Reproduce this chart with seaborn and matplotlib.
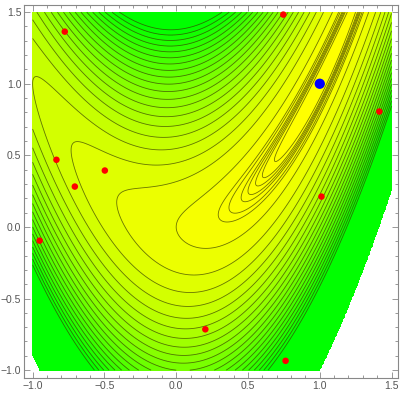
import numpy as np
import pandas as pd
import matplotlib
matplotlib.use("Agg")
import matplotlib.pyplot as plt
from matplotlib.colors import LinearSegmentedColormap, Normalize
from matplotlib.ticker import MultipleLocator
import seaborn as sns

# sample points
red_x = [-0.776, -0.834, -0.706, -0.497, 0.746, 1.415, 1.012, -0.951, 0.203, 0.762]
red_y = [1.364, 0.469, 0.282, 0.394, 1.483, 0.806, 0.212, -0.096, -0.715, -0.935]
min_x = [1.0]
min_y = [1.0]

# contour levels of the surface (estimated)
levels = [0.1, 0.16, 0.2, 0.25, 0.3, 0.4, 0.5, 1, 2, 3, 4, 5, 6, 7, 8, 9, 10,
          11, 12, 13, 14, 15, 16, 17, 18, 19, 20]
clip_value = 40
b = 10

sns.set_style("ticks")
plt.rcParams["font.family"] = ["Liberation Sans", "DejaVu Sans"]

# banana valley surface
xs = np.linspace(-1, 1.5, 500)
ys = np.linspace(-1, 1.5, 500)
X, Y = np.meshgrid(xs, ys)
Z = (1 - X) ** 2 + b * (Y - X ** 2) ** 2
Z = np.ma.masked_where(Z > clip_value, Z)

cmap = LinearSegmentedColormap.from_list("yg", ["#ffff00", "#00ff00"])
cmap.set_over("#00ff00")

fig = plt.figure(figsize=(4, 4), dpi=100)
ax = fig.add_axes([0.06, 0.055, 0.935, 0.9325])

ax.contourf(X, Y, Z, levels=[0] + levels, cmap=cmap, norm=Normalize(0, 20), extend="max")
ax.contour(X, Y, Z, levels=levels, colors="#3a3a00", linewidths=0.6, alpha=0.7)

pts = pd.DataFrame({"x": red_x, "y": red_y})
sns.scatterplot(data=pts, x="x", y="y", color="#ff0000", s=22, edgecolor="none", ax=ax, zorder=5)
sns.scatterplot(x=min_x, y=min_y, color="#0000ff", s=55, edgecolor="none", ax=ax, zorder=6)

ax.set_xlim(-1.06, 1.545)
ax.set_ylim(-1.055, 1.55)
ax.set_xlabel("")
ax.set_ylabel("")
ax.xaxis.set_major_locator(MultipleLocator(0.5))
ax.yaxis.set_major_locator(MultipleLocator(0.5))
ax.xaxis.set_minor_locator(MultipleLocator(0.1))
ax.yaxis.set_minor_locator(MultipleLocator(0.1))
ax.tick_params(which="both", direction="in", top=True, right=True, colors="#888888",
               labelcolor="#555555", labelsize=7.5, width=0.6, pad=2)
ax.tick_params(which="major", length=4)
ax.tick_params(which="minor", length=2)
for s in ax.spines.values():
    s.set_color("#888888")
    s.set_linewidth(0.8)

fig.savefig("out.png", dpi=100)
